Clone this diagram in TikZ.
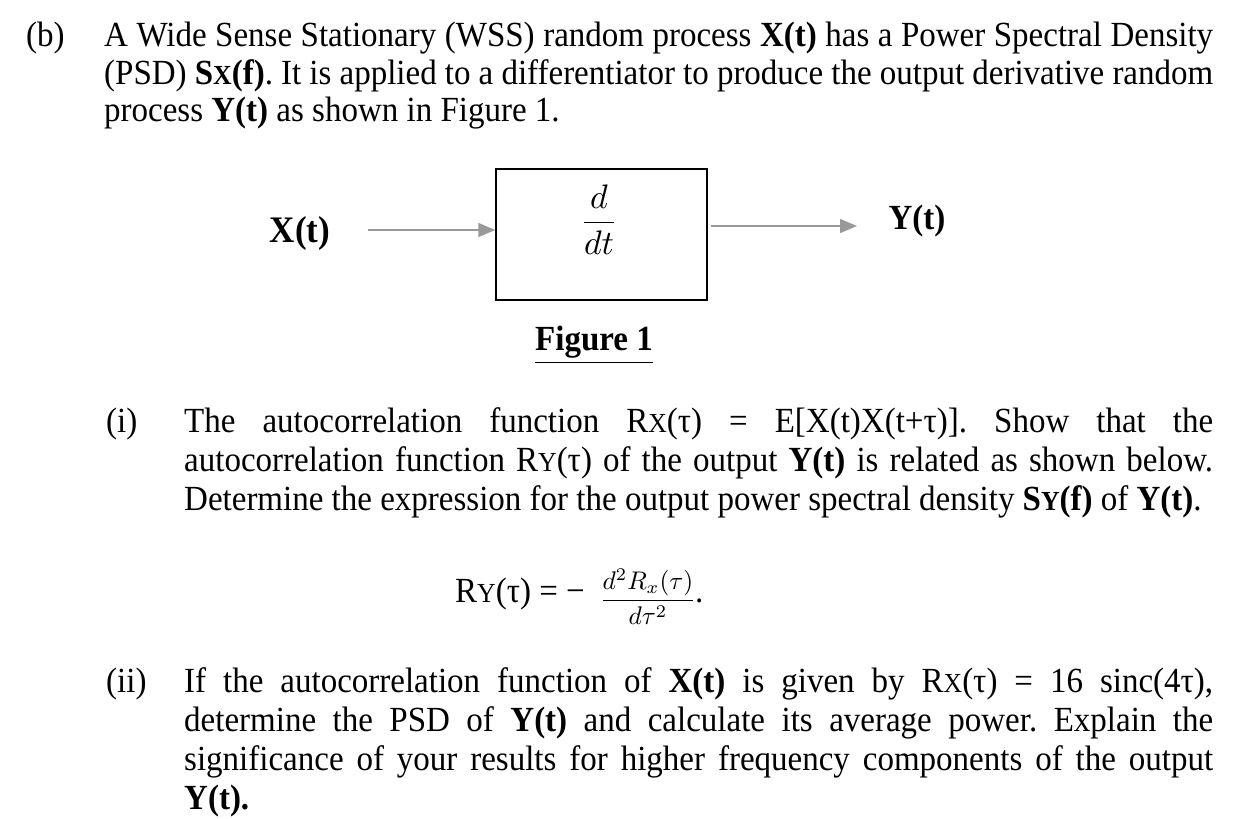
\documentclass[tikz,border=0pt]{standalone}
\usepackage{amsmath}
\usepackage{fontspec}
\usepackage{graphicx}
\setmainfont{Liberation Serif}
\usetikzlibrary{arrows.meta}
\frenchspacing
\newcommand\smc[1]{\scalebox{0.78}{#1}}
\newcommand\vtxt[1]{\scalebox{1}[1.07]{#1}}
\begin{document}
\begin{tikzpicture}[x=1pt,y=-1pt,
  txt/.style={anchor=base west,inner sep=0pt,font=\fontsize{33}{37}\selectfont},
  flow/.style={draw=gray!80,line width=1.6pt,-{Triangle[length=17pt,width=14pt,fill=gray!80]}},
  blk/.style={draw=black,line width=1.5pt,minimum width=211pt,minimum height=131pt,inner sep=0pt}]
\useasboundingbox (0,0) rectangle (1242,819);
\fill[white] (0,0) rectangle (1242,819);
% part (b)
\node[txt] (lb) at (26,46) {\vtxt{(b)}};
\node[txt] (b1) at (104,46) {\vtxt{\makebox[1109pt][s]{A Wide Sense Stationary (WSS) random process \textbf{X(t)} has a Power Spectral Density}}};
\node[txt] (b2) at (104,84) {\vtxt{\makebox[1109pt][s]{(PSD) \textbf{S\smc{X}(f)}. It is applied to a differentiator to produce the output derivative random}}};
\node[txt] (b3) at (104,121) {\vtxt{process \textbf{Y(t)} as shown in Figure 1.}};
% diagram
\node[blk] (box) at (601.5,234.5) {};
\node[inner sep=0pt,anchor=base] (frac) at (599,231) {\scalebox{3.4}{$\dfrac{d}{dt}$}};
\node[inner sep=0pt,font=\fontsize{35}{40}\selectfont\bfseries] (xin) at (300,233) {\vtxt{X(t)}};
\node[inner sep=0pt,font=\fontsize{33}{40}\selectfont\bfseries] (yout) at (917,221) {\vtxt{Y(t)}};
\coordinate (a1) at (368,230);
\coordinate (a3) at (857,226);
\draw[flow] (a1) -- (a1 -| box.west);
\draw[flow,shorten <=3pt] (box.east |- a3) -- (a3);
\node[inner sep=0pt,font=\fontsize{33}{40}\selectfont\bfseries] (fig) at (594,345) {\vtxt{\underline{Figure 1}}};
% part (i)
\node[txt] (li) at (106,432) {\vtxt{(i)}};
\node[txt] (i1) at (184,432) {\vtxt{\makebox[1029pt][s]{The autocorrelation function R\smc{X}(τ) = E[X(t)X(t+τ)]. Show that the}}};
\node[txt] (i2) at (184,471) {\vtxt{\makebox[1029pt][s]{autocorrelation function R\smc{Y}(τ) of the output \textbf{Y(t)} is related as shown below.}}};
\node[txt] (i3) at (184,510) {\vtxt{Determine the expression for the output power spectral density \textbf{S\smc{Y}(f)} of \textbf{Y(t)}.}};
% equation
\node[txt] (eq) at (455,602) {\vtxt{R\smc{Y}(τ) = −}};
\node[inner sep=0pt,anchor=base] (efrac) at (648,607) {\scalebox{2.55}{$\dfrac{d^2R_x(\tau)}{d\tau^2}$}};
\node[txt] (dot) at (695,602) {\vtxt{.}};
% part (ii)
\node[txt] (lii) at (106,692) {\vtxt{(ii)}};
\node[txt] (ii1) at (184,692) {\vtxt{\makebox[1029pt][s]{If the autocorrelation function of \textbf{X(t)} is given by R\smc{X}(τ) = 16 sinc(4τ),}}};
\node[txt] (ii2) at (184,731) {\vtxt{\makebox[1029pt][s]{determine the PSD of \textbf{Y(t)} and calculate its average power. Explain the}}};
\node[txt] (ii3) at (184,770) {\vtxt{\makebox[1029pt][s]{significance of your results for higher frequency components of the output}}};
\node[txt] (ii4) at (184,809) {\vtxt{\textbf{Y(t).}}};
\end{tikzpicture}
\end{document}
